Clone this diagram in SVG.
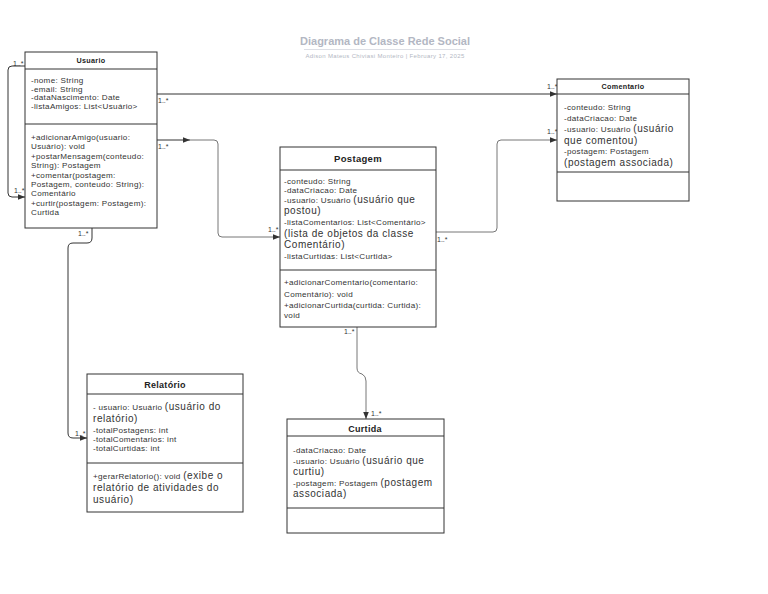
<svg xmlns="http://www.w3.org/2000/svg" width="768" height="594" viewBox="0 0 768 594">
<style>
.box{fill:#fff;stroke:#333;stroke-width:1}
.sep{stroke:#333;stroke-width:1}
.t{font-family:"Liberation Sans",Arial,sans-serif;font-size:8.1px;letter-spacing:0.3px;fill:#333}
.b{font-size:10px;letter-spacing:0.55px}
.h{font-family:"Liberation Sans",Arial,sans-serif;font-weight:bold;fill:#222;text-anchor:middle;letter-spacing:0.3px}
.lbl{font-family:"Liberation Sans",Arial,sans-serif;font-size:7px;fill:#333}
.c{fill:none;stroke:#333;stroke-width:1}
.cl{fill:none;stroke:#777;stroke-width:1}
</style>
<defs>
<marker id="arr" viewBox="0 0 10 10" refX="10" refY="5" markerWidth="7" markerHeight="7" orient="auto" markerUnits="userSpaceOnUse">
<path d="M0,1 L10,5 L0,9 z" fill="#333"/>
</marker>
</defs>
<rect width="768" height="594" fill="#fff"/>
<g id="title">
<text x="385" y="45" text-anchor="middle" style="font-family:'Liberation Sans',Arial,sans-serif;font-weight:bold;font-size:11px;fill:#b3b7c3">Diagrama de Classe Rede Social</text>
<line x1="304" y1="49.5" x2="466" y2="49.5" stroke="#d4d7de" stroke-width="0.8"/>
<text x="385" y="57.5" text-anchor="middle" style="font-family:'Liberation Sans',Arial,sans-serif;font-size:6px;letter-spacing:0.35px;fill:#b3b7c3">Adison Mateus Chiviasi Monteiro  |  February 17, 2025</text>
</g>
<g id="connectors">
<path class="c" d="M25,66 H12 Q8,66 8,70 V193 Q8,197 12,197 H25" marker-end="url(#arr)"/>
<text class="lbl" x="13" y="66">1..*</text>
<text class="lbl" x="14" y="193">1..*</text>
<path class="c" d="M157,94 H557" marker-end="url(#arr)"/>
<text class="lbl" x="158" y="103">1..*</text>
<text class="lbl" x="547" y="89">1..*</text>
<path class="c" d="M157,140 H190" marker-end="url(#arr)"/>
<path class="cl" d="M190,140 H214 Q218,140 218,144 V233 Q218,237 222,237 H280" marker-end="url(#arr)"/>
<text class="lbl" x="158" y="149">1..*</text>
<text class="lbl" x="268" y="232">1..*</text>
<path class="cl" d="M436,232 H493 Q497,232 497,228 V144 Q497,140 501,140 H557" marker-end="url(#arr)"/>
<text class="lbl" x="437" y="242">1..*</text>
<text class="lbl" x="547" y="134">1..*</text>
<path class="c" d="M92,228 V238 Q92,243 87,243 H73 Q68,243 68,248 V433 Q68,438 73,438 H87" marker-end="url(#arr)"/>
<text class="lbl" x="78" y="236">1..*</text>
<text class="lbl" x="75" y="436">1..*</text>
<path class="cl" d="M357,327 V368 Q357,373 362,374 Q366,376 366,381 V419" marker-end="url(#arr)"/>
<text class="lbl" x="344" y="334">1..*</text>
<text class="lbl" x="371" y="416">1..*</text>
</g>
<g id="usuario">
<rect class="box" x="25" y="52" width="132" height="176"/>
<line class="sep" x1="25" y1="69" x2="157" y2="69"/>
<line class="sep" x1="25" y1="124" x2="157" y2="124"/>
<text class="h" x="91" y="63" font-size="7.2">Usuario</text>
<text class="t" x="31" y="83">-nome: String</text>
<text class="t" x="31" y="92">-email: String</text>
<text class="t" x="31" y="100">-dataNascimento: Date</text>
<text class="t" x="31" y="109">-listaAmigos: List&lt;Usuário&gt;</text>
<text class="t" x="31" y="140">+adicionarAmigo(usuario:</text>
<text class="t" x="31" y="149">Usuário): void</text>
<text class="t" x="31" y="158.5">+postarMensagem(conteudo:</text>
<text class="t" x="31" y="167.5">String): Postagem</text>
<text class="t" x="31" y="178">+comentar(postagem:</text>
<text class="t" x="31" y="187">Postagem, conteudo: String):</text>
<text class="t" x="31" y="196">Comentário</text>
<text class="t" x="31" y="206">+curtir(postagem: Postagem):</text>
<text class="t" x="31" y="215">Curtida</text>
</g>
<g id="comentario">
<rect class="box" x="557" y="79" width="132" height="122"/>
<line class="sep" x1="557" y1="94" x2="689" y2="94"/>
<line class="sep" x1="557" y1="172" x2="689" y2="172"/>
<text class="h" x="623" y="89" font-size="7.2">Comentario</text>
<text class="t" x="564" y="110">-conteudo: String</text>
<text class="t" x="564" y="121">-dataCriacao: Date</text>
<text class="t" x="564" y="132">-usuario: Usuário <tspan class="b">(usuário</tspan></text>
<text class="t b" x="564" y="143.5">que comentou)</text>
<text class="t" x="564" y="154">-postagem: Postagem</text>
<text class="t b" x="564" y="166">(postagem associada)</text>
</g>
<g id="postagem">
<rect class="box" x="280" y="147" width="156" height="180"/>
<line class="sep" x1="280" y1="170" x2="436" y2="170"/>
<line class="sep" x1="280" y1="270" x2="436" y2="270"/>
<text class="h" x="358" y="161.5" font-size="9.5">Postagem</text>
<text class="t" x="284" y="184">-conteudo: String</text>
<text class="t" x="284" y="193">-dataCriacao: Date</text>
<text class="t" x="284" y="203">-usuario: Usuário <tspan class="b">(usuário que</tspan></text>
<text class="t b" x="284" y="214">postou)</text>
<text class="t" x="284" y="225">-listaComentarios: List&lt;Comentário&gt;</text>
<text class="t b" x="284" y="237">(lista de objetos da classe</text>
<text class="t b" x="284" y="248">Comentário)</text>
<text class="t" x="284" y="259">-listaCurtidas: List&lt;Curtida&gt;</text>
<text class="t" x="284" y="285">+adicionarComentario(comentario:</text>
<text class="t" x="284" y="297">Comentário): void</text>
<text class="t" x="284" y="308">+adicionarCurtida(curtida: Curtida):</text>
<text class="t" x="284" y="318">void</text>
</g>
<g id="relatorio">
<rect class="box" x="87" y="374" width="156" height="138"/>
<line class="sep" x1="87" y1="394" x2="243" y2="394"/>
<line class="sep" x1="87" y1="463" x2="243" y2="463"/>
<text class="h" x="165" y="387.5" font-size="9">Relatório</text>
<text class="t" x="93" y="410">- usuario: Usuário <tspan class="b">(usuário do</tspan></text>
<text class="t b" x="93" y="422">relatório)</text>
<text class="t" x="93" y="433">-totalPostagens: int</text>
<text class="t" x="93" y="442">-totalComentarios: int</text>
<text class="t" x="93" y="451">-totalCurtidas: int</text>
<text class="t" x="93" y="479">+gerarRelatorio(): void <tspan class="b">(exibe o</tspan></text>
<text class="t b" x="93" y="491">relatório de atividades do</text>
<text class="t b" x="93" y="503">usuário)</text>
</g>
<g id="curtida">
<rect class="box" x="287" y="419" width="157" height="114"/>
<line class="sep" x1="287" y1="436" x2="444" y2="436"/>
<line class="sep" x1="287" y1="508" x2="444" y2="508"/>
<text class="h" x="365" y="431.5" font-size="9">Curtida</text>
<text class="t" x="293" y="453">-dataCriacao: Date</text>
<text class="t" x="293" y="464">-usuario: Usuário <tspan class="b">(usuário que</tspan></text>
<text class="t b" x="293" y="475">curtiu)</text>
<text class="t" x="293" y="486">-postagem: Postagem <tspan class="b">(postagem</tspan></text>
<text class="t b" x="293" y="497">associada)</text>
</g>
</svg>
